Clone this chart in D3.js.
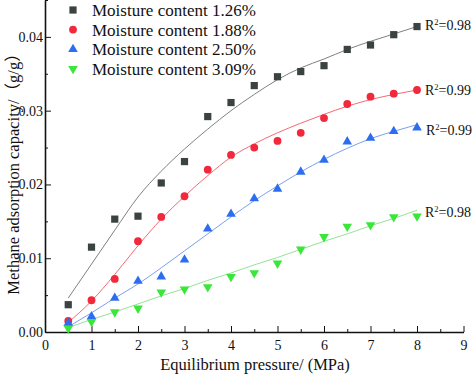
<!doctype html>
<html>
<head>
<meta charset="utf-8">
<script src="https://cdn.jsdelivr.net/npm/d3@7/dist/d3.min.js"></script>
<style>
  body { margin: 0; background: #fff; }
  svg text { font-family: "Liberation Serif", "Times New Roman", "Noto Sans CJK SC", serif; fill: #111; }
</style>
</head>
<body>
<svg width="474" height="375"></svg>
<script>
// pressure (MPa) and measured adsorption (g/g) for each moisture content
var pressure = [0.5, 1, 1.5, 2, 2.5, 3, 3.5, 4, 4.5, 5, 5.5, 6, 6.5, 7, 7.5, 8];
var mc126 = [0.0037, 0.0115, 0.0153, 0.0157, 0.0202, 0.0231, 0.0292, 0.0311, 0.0334, 0.0346, 0.0353, 0.0361, 0.0383, 0.0389, 0.0403, 0.0414];
var mc188 = [0.0015, 0.0043, 0.0072, 0.0123, 0.0156, 0.0184, 0.0220, 0.0240, 0.0250, 0.0259, 0.0270, 0.0290, 0.0309, 0.0319, 0.0323, 0.0328];
var mc250 = [0.0012, 0.0021, 0.0046, 0.0069, 0.0075, 0.0098, 0.0140, 0.0160, 0.0181, 0.0194, 0.0217, 0.0233, 0.0258, 0.0263, 0.0272, 0.0277];
var mc309 = [0.0005, 0.0014, 0.0027, 0.0032, 0.0054, 0.0058, 0.0061, 0.0075, 0.0080, 0.0093, 0.0112, 0.0129, 0.0143, 0.0145, 0.0156, 0.0157];

// fitted curves at the same pressures
var fit126 = [0.0046, 0.0092, 0.0138, 0.0183, 0.0218, 0.0248, 0.0275, 0.0300, 0.0322, 0.0342, 0.0358, 0.0370, 0.0383, 0.0394, 0.0404, 0.0414];
var fit188 = [0.0013, 0.0042, 0.0078, 0.0117, 0.0153, 0.0184, 0.0212, 0.0237, 0.0255, 0.0270, 0.0283, 0.0295, 0.0306, 0.0315, 0.0322, 0.0328];
var fit250 = [0.0007, 0.0026, 0.0046, 0.0065, 0.0087, 0.0110, 0.0133, 0.0156, 0.0178, 0.0198, 0.0217, 0.0234, 0.0249, 0.0262, 0.0272, 0.0281];
var fit309 = [0.0006, 0.0017, 0.0027, 0.0038, 0.0049, 0.0059, 0.0070, 0.0080, 0.0091, 0.0101, 0.0112, 0.0123, 0.0133, 0.0144, 0.0154, 0.0165];

var seriesNames = ["Moisture content 1.26%", "Moisture content 1.88%", "Moisture content 2.50%", "Moisture content 3.09%"];
var r2Labels = ["0.98", "0.99", "0.99", "0.98"];
var xTicks = [0, 1, 2, 3, 4, 5, 6, 7, 8, 9];
var yTicks = [0, 0.01, 0.02, 0.03, 0.04];

var series = [
  {name: seriesNames[0], vals: mc126, fit: fit126, r2: r2Labels[0], color: "#3b4242", line: "#808080", shape: d3.symbolSquare, size: 52, rot: 0, lx: 425, ly: 25},
  {name: seriesNames[1], vals: mc188, fit: fit188, r2: r2Labels[1], color: "#f2283c", line: "#f36a74", shape: d3.symbolCircle, size: 48, rot: 0, lx: 425, ly: 90},
  {name: seriesNames[2], vals: mc250, fit: fit250, r2: r2Labels[2], color: "#2d6ef0", line: "#7c9ff0", shape: d3.symbolTriangle, size: 40, rot: 0, lx: 426, ly: 130},
  {name: seriesNames[3], vals: mc309, fit: fit309, r2: r2Labels[3], color: "#3be63b", line: "#96e296", shape: d3.symbolTriangle, size: 40, rot: 180, lx: 425, ly: 212}
];

var svg = d3.select("svg");
var x = d3.scaleLinear().domain([0, 9]).range([45, 463.5]);
var y = d3.scaleLinear().domain([0, 0.045]).range([332, 0]);

// minor ticks
svg.append("g").attr("transform", "translate(0,332)")
  .call(d3.axisBottom(x).tickValues(d3.range(0.5, 9, 1)).tickSizeInner(-3).tickSizeOuter(0).tickFormat(""))
  .call(g => g.select(".domain").remove());
svg.append("g").attr("transform", "translate(45,0)")
  .call(d3.axisLeft(y).tickValues([0.005, 0.015, 0.025, 0.035, 0.045]).tickSizeInner(-3).tickSizeOuter(0).tickFormat(""))
  .call(g => g.select(".domain").remove());

var xAxis = svg.append("g").attr("transform", "translate(0,332)")
  .call(d3.axisBottom(x).tickValues(xTicks).tickSizeInner(-6).tickSizeOuter(0).tickPadding(8).tickFormat(d3.format("d")));
var yAxis = svg.append("g").attr("transform", "translate(45,0)")
  .call(d3.axisLeft(y).tickValues(yTicks).tickSizeInner(-6).tickSizeOuter(0).tickPadding(2).tickFormat(d3.format(".2f")));

[xAxis, yAxis].forEach(g => {
  g.selectAll("text").style("font-size", "14px").attr("fill", "#111");
  g.select(".domain").attr("stroke-width", 1.6).attr("stroke", "#111");
});
svg.selectAll(".tick line").attr("stroke", "#111");

// axis titles
svg.append("text").attr("x", 255).attr("y", 370).attr("text-anchor", "middle")
  .style("font-size", "16.5px").text("Equilibrium pressure/ (MPa)");
svg.append("text").attr("transform", "translate(19,170) rotate(-90)").attr("text-anchor", "middle")
  .style("font-size", "16.5px").text("Methane adsorption capacity/（g/g）");

// fit curves
var line = d3.line().x((d, i) => x(pressure[i])).y(d => y(d)).curve(d3.curveMonotoneX);
series.forEach(s => {
  svg.append("path").attr("d", line(s.fit)).attr("fill", "none")
    .attr("stroke", s.line).attr("stroke-width", 1);
});

// markers
series.forEach(s => {
  svg.append("g").selectAll("path").data(s.vals).enter().append("path")
    .attr("d", d3.symbol().type(s.shape).size(s.size))
    .attr("transform", (d, i) => "translate(" + x(pressure[i]) + "," + y(d) + ") rotate(" + s.rot + ")")
    .attr("fill", s.color);
  var t = svg.append("text").attr("x", s.lx).attr("y", s.ly).attr("dy", "0.35em").style("font-size", "14px");
  t.append("tspan").text("R");
  t.append("tspan").attr("dy", "-5").style("font-size", "8.5px").text("2");
  t.append("tspan").attr("dy", "5").text("=" + s.r2);
});

// legend
var leg = svg.append("g").selectAll("g").data(series).enter().append("g")
  .attr("transform", (d, i) => "translate(73," + (10 + i * 19.6) + ")");
leg.append("path").attr("d", d => d3.symbol().type(d.shape).size(d.size)())
  .attr("transform", d => "rotate(" + d.rot + ")").attr("fill", d => d.color);
leg.append("text").attr("x", 19).attr("dy", "0.35em").style("font-size", "17px").text(d => d.name);
</script>
</body>
</html>
